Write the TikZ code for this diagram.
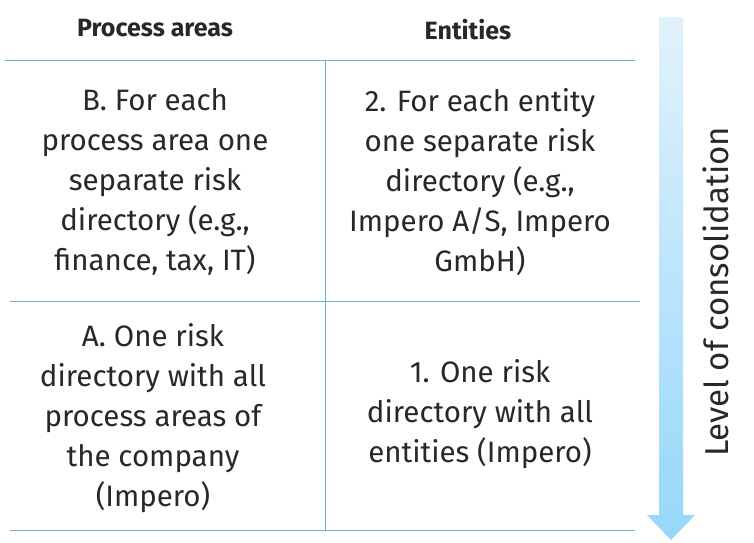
\documentclass[tikz,border=0pt]{standalone}
\usepackage{fontspec}
\setmainfont{Fira Sans}
\definecolor{txtgray}{RGB}{40,40,40}
\definecolor{rulecol}{RGB}{110,175,205}
\definecolor{arrowtop}{RGB}{225,242,252}
\definecolor{arrowbot}{RGB}{150,215,250}
\tikzset{
  cell/.style={text=txtgray, align=center, font=\fontsize{29.5}{40}\selectfont},
  head/.style={text=txtgray, font=\fontsize{25}{28}\selectfont\bfseries},
  rule/.style={draw=rulecol, line width=0.8pt}
}
\begin{document}
\begin{tikzpicture}[x=1pt,y=-1pt]
\useasboundingbox (0,0) rectangle (754,542);

\node[head] (hproc) at (155,28) {Process areas};
\node[head] (hent) at (468,30) {Entities};

\draw[rule] (5,60) -- (635,60);
\draw[rule] (10,301) -- (640,301);
\draw[rule] (10,530) -- (635,530);
\draw[rule] (325,60) -- (325,530);

\node[cell] (b) at (155,182) {B. For each\\process area one\\separate risk\\directory (e.g.,\\finance, tax, IT)};
\node[cell] (two) at (480,182) {2. For each entity\\one separate risk\\directory (e.g.,\\Impero A/S, Impero\\GmbH)};
\node[cell] (a) at (153,418) {A. One risk\\directory with all\\process areas of\\the company\\(Impero)};
\node[cell] (one) at (480,414) {1. One risk\\directory with all\\entities (Impero)};

% consolidation arrow
\shade[top color=arrowtop, bottom color=arrowbot]
  (659,17) -- (683,17) -- (683,515) -- (695,515) -- (671,540) -- (647,515) -- (659,515) -- cycle;
\node[cell, rotate=90, font=\fontsize{33}{40}\selectfont] (lvl) at (716,292) {Level of consolidation};
\end{tikzpicture}
\end{document}
